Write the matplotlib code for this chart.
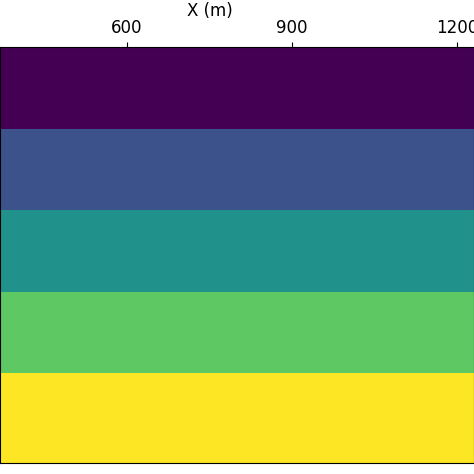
import matplotlib
matplotlib.use("Agg")
import matplotlib.pyplot as plt
import numpy as np

layer_values = [1, 2, 3, 4, 5]
xticks = [600, 900, 1200]
x_min, x_max = 369, 1231
depth_edges = [0, 100, 200, 300, 400, 510]

fig = plt.figure(figsize=(4.74, 4.74), dpi=100)
ax = fig.add_axes([0, 0.023, 1, 0.878])
grid = np.array(layer_values, dtype=float).reshape(-1, 1)
ax.pcolormesh([x_min, x_max], depth_edges, grid, cmap="viridis", shading="flat")
ax.set_xlim(x_min, x_max)
ax.set_ylim(depth_edges[-1], depth_edges[0])
ax.xaxis.tick_top()
ax.xaxis.set_label_position("top")
ax.set_xticks(xticks)
ax.tick_params(labelsize=12)
ax.set_xlabel("X (m)", fontsize=12)
ax.xaxis.set_label_coords(210 / 474, 1.075)
ax.set_yticks([])
fig.savefig("out.png", dpi=100)
